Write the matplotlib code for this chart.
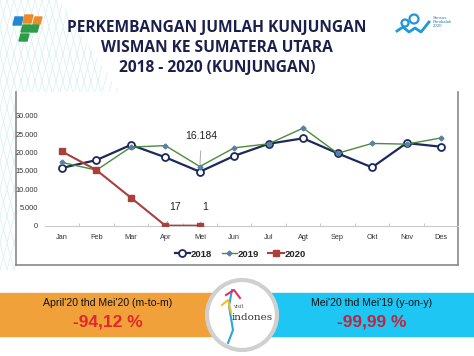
import matplotlib
matplotlib.use('Agg')
import matplotlib.pyplot as plt
from matplotlib.patches import Rectangle, Circle, Polygon
from matplotlib.ticker import FuncFormatter

months = ['Jan', 'Feb', 'Mar', 'Apr', 'Mei', 'Jun', 'Jul', 'Agt', 'Sep', 'Okt', 'Nov', 'Des']
wisman_2018 = [15800, 17950, 22100, 18700, 14750, 19100, 22400, 23900, 19800, 15950, 22600, 21600]
wisman_2019 = [17300, 15200, 21500, 21900, 16184, 21300, 22400, 26700, 19800, 22500, 22300, 24000]
wisman_2020 = [20300, 15200, 7650, 17, 1]
y_ticks = [0, 5000, 10000, 15000, 20000, 25000, 30000]

title_lines = ['PERKEMBANGAN JUMLAH KUNJUNGAN', 'WISMAN KE SUMATERA UTARA', '2018 - 2020 (KUNJUNGAN)']
left_caption = "April'20 thd Mei'20 (m-to-m)"
left_value = '-94,12 %'
right_caption = "Mei'20 thd Mei'19 (y-on-y)"
right_value = '-99,99 %'

W, H = 474, 356


def fx(px):
    return px / W


def fy(py):
    return 1 - py / H


fig = plt.figure(figsize=(W / 100, H / 100), dpi=100)
fig.patch.set_facecolor('white')
bg = fig.add_axes([0, 0, 1, 1])
bg.set_xlim(0, W)
bg.set_ylim(H, 0)
bg.axis('off')

# faint pattern at the top-left corner and left edge
for i in range(-30, 12):
    bg.plot([i * 7, i * 7 + 70], [0, 270], color='#d6eff4', lw=0.5, zorder=0)
    bg.plot([i * 7 + 70, i * 7], [0, 270], color='#d6eff4', lw=0.5, zorder=0)
bg.add_patch(Rectangle((16, 92), W, 185, color='white', zorder=0.5))
bg.add_patch(Polygon([[60, 0], [W, 0], [W, 92], [120, 92]], color='white', zorder=0.5))

# BPS logo (rough)
bg.add_patch(Polygon([[15, 17], [23, 17], [21, 25], [13, 25]], color='#1f88d0', zorder=2))
bg.add_patch(Polygon([[25, 15], [33, 15], [31, 23], [23, 23]], color='#f08a24', zorder=2))
bg.add_patch(Polygon([[35, 17], [42, 17], [40, 24], [33, 24]], color='#f08a24', zorder=2))
bg.add_patch(Polygon([[23, 25], [31, 25], [29, 32], [21, 32]], color='#2d9c44', zorder=2))
bg.add_patch(Polygon([[32, 25], [39, 25], [37, 32], [30, 32]], color='#2d9c44', zorder=2))
bg.add_patch(Polygon([[21, 34], [29, 34], [27, 41], [19, 41]], color='#2d9c44', zorder=2))

# Sensus Penduduk logo (rough)
bg.add_patch(Circle((405, 23), 3.5, fill=False, ec='#2196d8', lw=1.6, zorder=2))
bg.add_patch(Circle((414, 19), 4.5, fill=False, ec='#2196d8', lw=1.6, zorder=2))
bg.plot([397, 403, 409, 415, 421, 429], [31, 27, 32, 28, 32, 22], color='#2196d8', lw=2, zorder=2)
bg.text(433, 22, 'Sensus\nPenduduk\n2020', fontsize=3.2, color='#2a7fc0', va='center',
        linespacing=1.0, family='Liberation Sans')

# title
for text, y in zip(title_lines, [28, 48, 68]):
    bg.text(217, y, text, fontsize=11.2, fontweight='bold', color='#1c1f4c',
            ha='center', va='center', family='Open Sans')

# chart frame
bg.plot([16, 16], [92, 265], color='#8a8a8a', lw=1.2)
bg.plot([458, 458], [92, 265], color='#8a8a8a', lw=1.2)
bg.plot([16, 458], [265, 265], color='#8a8a8a', lw=1.2)

# chart
ax = fig.add_axes([fx(44.8), fy(225.7), fx(458.2 - 44.8), (225.7 - 116) / H])
ax.set_facecolor('none')
x = list(range(len(months)))
ax.plot(x, wisman_2018, color='#1b2a5a', lw=1.6, marker='o', ms=5,
        mfc='white', mec='#1b2a5a', mew=1.3, label='2018', zorder=3)
ax.plot(x, wisman_2019, color='#4b8b3b', lw=1.0, marker='D', ms=2.5,
        mfc='#5a7fa8', mec='#5a7fa8', label='2019', zorder=4)
ax.plot(x[:len(wisman_2020)], wisman_2020, color='#a9403c', lw=1.5, marker='s', ms=4,
        mfc='#a9403c', mec='#a9403c', label='2020', zorder=5)

ax.set_xlim(-0.5, len(months) - 0.5)
ax.set_ylim(0, 30000)
ax.set_yticks(y_ticks)
ax.yaxis.set_major_formatter(FuncFormatter(lambda v, p: '0' if v == 0 else f'{int(v):,}'.replace(',', '.')))
ax.set_xticks(x)
ax.set_xticklabels(months)
ax.set_xticks([i + 0.5 for i in x[:-1]], minor=True)
ax.tick_params(axis='both', which='major', length=0, labelsize=5.3, colors='#333333', pad=6)
ax.tick_params(axis='y', which='major', pad=5)
ax.tick_params(axis='x', which='minor', length=2.5, direction='in', color='#bbbbbb')
for s in ['top', 'right', 'left']:
    ax.spines[s].set_visible(False)
ax.spines['bottom'].set_color('#c8c8c8')
ax.spines['bottom'].set_linewidth(0.8)
for t in ax.get_yticklabels() + ax.get_xticklabels():
    t.set_family('Liberation Sans')

# data labels with leader lines
ax.annotate(f'{wisman_2019[4]:,}'.replace(',', '.'), xy=(4, wisman_2019[4]), xytext=(4.05, 24500),
            ha='center', va='center', fontsize=7.5, color='#222222', family='Liberation Sans',
            arrowprops=dict(arrowstyle='-', color='#aaaaaa', lw=0.7, shrinkA=5, shrinkB=2))
ax.annotate(str(wisman_2020[3]), xy=(3, wisman_2020[3]), xytext=(3.28, 5000),
            ha='center', va='center', fontsize=7.5, color='#222222', family='Liberation Sans',
            arrowprops=dict(arrowstyle='-', color='#aaaaaa', lw=0.7, shrinkA=5, shrinkB=2))
ax.annotate(str(wisman_2020[4]), xy=(4, wisman_2020[4]), xytext=(4.15, 5000),
            ha='center', va='center', fontsize=7.5, color='#222222', family='Liberation Sans',
            arrowprops=dict(arrowstyle='-', color='#aaaaaa', lw=0.7, shrinkA=5, shrinkB=2))

leg = ax.legend(loc='center', bbox_to_anchor=(0.473, -0.26), ncol=3, frameon=False,
                handlelength=1.6, handletextpad=0.1, columnspacing=1.0,
                prop={'family': 'Liberation Sans', 'weight': 'bold', 'size': 6.8})
for t in leg.get_texts():
    t.set_color('#222222')

# bottom bands
bg.add_patch(Rectangle((0, 293), 230, 43, color='#f0a13a', zorder=2))
bg.add_patch(Rectangle((250, 293), W - 250, 43, color='#1ec6f4', zorder=2))
bg.add_patch(Circle((242, 315), 35, fc='white', ec='#d0d0d0', lw=3, zorder=3))
bg.plot([232, 229, 233, 228], [290, 306, 330, 343], color='#2aa6d8', lw=1.5, zorder=4)
bg.plot([226, 234, 240], [295, 290, 298], color='#e0306a', lw=1.5, zorder=4)
bg.plot([222, 228, 231], [305, 300, 312], color='#f0c030', lw=1.5, zorder=4)
bg.text(238, 307, 'visit', fontsize=3.5, color='#555555', ha='center', va='center',
        family='DejaVu Serif', zorder=5)
bg.text(252, 318, 'indones', fontsize=7.5, color='#333333', ha='center', va='center',
        family='DejaVu Serif', zorder=5)

bg.text(108, 303, left_caption, fontsize=7.6, color='#111111', ha='center', va='center',
        family='Liberation Sans', zorder=4)
bg.text(108, 322, left_value, fontsize=12.5, fontweight='bold', color='#e3262b', ha='center',
        va='center', family='Liberation Sans', zorder=4)
bg.text(372, 303, right_caption, fontsize=7.6, color='#111111', ha='center', va='center',
        family='Liberation Sans', zorder=4)
bg.text(372, 322, right_value, fontsize=12.5, fontweight='bold', color='#c9213a', ha='center',
        va='center', family='Liberation Sans', zorder=4)

fig.savefig('out.png', dpi=100)
